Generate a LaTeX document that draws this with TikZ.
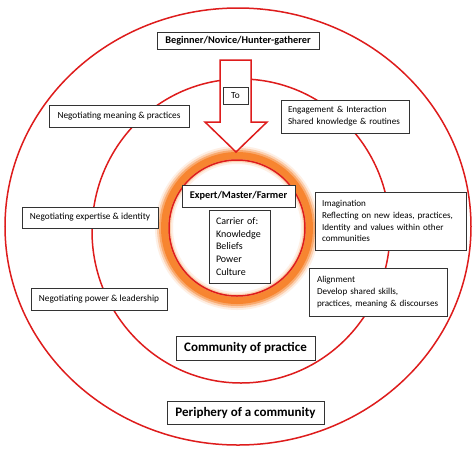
\documentclass[tikz,border=0pt]{standalone}
\usepackage{fontspec}
\setmainfont{Carlito}
\definecolor{ringred}{RGB}{222,28,28}
\definecolor{glow}{RGB}{246,122,30}
\begin{document}
\begin{tikzpicture}[x=1pt,y=-1pt,
  redline/.style={draw=ringred, line width=1.5pt},
  box/.style={draw=black!80, fill=white, line width=0.8pt, inner sep=0pt},
  txt/.style={font=\fontsize{9.3}{11.8}\selectfont},
  mtxt/.style={font=\fontsize{9.1}{11.8}\selectfont},
  btxt/.style={font=\bfseries\fontsize{10.3}{12}\selectfont},
  ltxt/.style={font=\bfseries\fontsize{13}{15}\selectfont},
  multibox/.style={box, inner xsep=7pt, inner ysep=0pt, align=left, mtxt}]
\useasboundingbox (0,0) rectangle (474,451);
\fill[white] (0,0) rectangle (474,451);
% ellipses
\draw[redline] (238,226.5) ellipse [x radius=233, y radius=218.5];
\draw[redline] (241,231) ellipse [x radius=149, y radius=152];
% glowing ring
\fill[white] (237,228) circle [radius=68];
\draw[line width=18pt, glow!12] (237,228) circle [radius=73];
\draw[line width=14pt, glow!35] (237,228) circle [radius=73];
\draw[line width=10pt, glow!65] (237,228) circle [radius=73];
\draw[line width=7pt, glow!92] (237,228) circle [radius=72.5];
\draw[redline] (237,228) circle [radius=68];
% arrow
\draw[redline, fill=white, line join=miter] (220,60) -- (251,60) -- (251,122) -- (267,122) -- (236,152) -- (205,122) -- (220,122) -- cycle;
% boxes
\node[box, btxt, minimum width=162pt, minimum height=17pt] (begin) at (238,40.5) {Beginner/Novice/Hunter-gatherer};
\node[box, txt, minimum width=25pt, minimum height=17pt] (to) at (235.5,95.5) {To};
\node[box, txt, minimum width=140pt, minimum height=22pt] (negmean) at (119,116) {Negotiating meaning \& practices};
\node[multibox, text width=114pt, minimum height=33pt] (engage) at (345,116.5) {\mbox{Engagement \& Interaction}\\\mbox{Shared knowledge \& routines}};
\node[box, btxt, minimum width=113pt, minimum height=22pt] (expert) at (238.5,196) {Expert/Master/Farmer};
\node[box, align=left, inner xsep=7pt, text width=47pt, minimum height=73pt, font=\fontsize{10}{12.7}\selectfont] (carrier) at (239.5,246.5) {Carrier of:\\Knowledge\\Beliefs\\Power\\Culture};
\node[box, txt, minimum width=136pt, minimum height=21pt] (negexp) at (90,217.5) {Negotiating expertise \& identity};
\node[multibox, text width=137pt, minimum height=58pt] (imag) at (390.5,221) {\mbox{Imagination}\\\mbox{Reflecting on new ideas, practices,}\\\mbox{Identity and values within other}\\\mbox{communities}};
\node[box, txt, minimum width=136pt, minimum height=22pt] (negpow) at (99,299) {Negotiating power \& leadership};
\node[multibox, inner xsep=8pt, text width=122pt, minimum height=48pt] (align) at (378,292) {\mbox{Alignment}\\\mbox{Develop shared skills,}\\\mbox{practices, meaning \& discourses}};
\node[box, ltxt, minimum width=139pt, minimum height=24pt] (cop) at (245.5,348) {Community of practice};
\node[box, ltxt, minimum width=157pt, minimum height=23pt] (periph) at (245.5,412.5) {Periphery of a community};
\end{tikzpicture}
\end{document}
